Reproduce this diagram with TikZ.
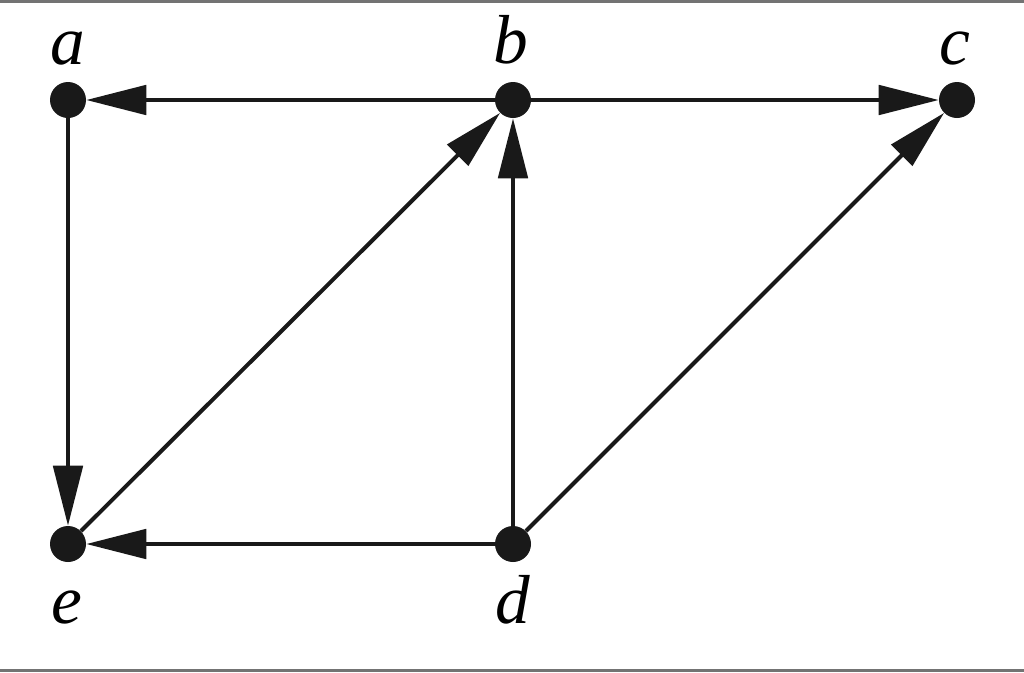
\documentclass[tikz,border=0pt]{standalone}
\usepackage{fontspec}
\setmainfont{Liberation Serif}
\usetikzlibrary{arrows.meta}

\begin{document}
\begin{tikzpicture}[x=0.75pt,y=0.75pt,yscale=-1,xscale=1,
  vertex/.style={circle,fill=black!90,inner sep=0pt,minimum size=27pt},
  vlabel/.style={anchor=base,inner sep=0pt,font=\fontsize{52}{60}\selectfont\itshape},
  edge/.style={line width=3pt,draw=black!90,-{Triangle[length=45pt,width=22pt]}}]
\useasboundingbox (0,0) rectangle (1024,672);

%Frame lines
\fill [black!55] (0,0) rectangle (1024,2.5);
\fill [black!55] (0,669) rectangle (1024,672);

% Vertices
\node [vertex] (a) at (68,100) {};
\node [vertex] (b) at (513,100) {};
\node [vertex] (c) at (957,100) {};
\node [vertex] (d) at (513,544) {};
\node [vertex] (e) at (68,544) {};

% Labels
\node [vlabel] (la) at (68,64) {a};
\node [vlabel] (lb) at (511,63) {b};
\node [vlabel] (lc) at (955,64) {c};
\node [vlabel] (ld) at (513,623) {d};
\node [vlabel] (le) at (67,623) {e};

% Edges
\draw [edge] (b) -- (a);
\draw [edge] (b) -- (c);
\draw [edge] (a) -- (e);
\draw [edge] (e) -- (b);
\draw [edge] (d) -- (b);
\draw [edge] (d) -- (e);
\draw [edge] (d) -- (c);
\end{tikzpicture}
\end{document}
